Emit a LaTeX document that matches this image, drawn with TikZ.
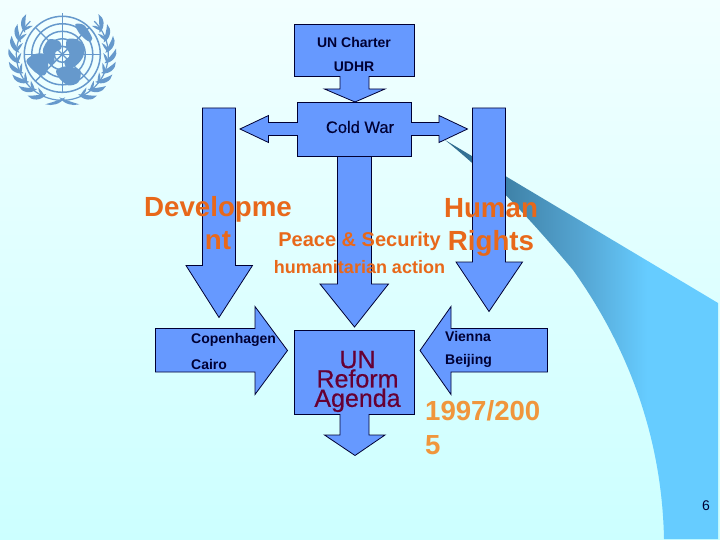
\documentclass[tikz,border=0pt]{standalone}
\usepackage{fontspec}
\setmainfont{Liberation Sans}
\newfontfamily\reformfont[FakeBold=0.5]{Liberation Sans}
\newfontfamily\warfont[FakeBold=0.25]{Liberation Sans}
\definecolor{blockblue}{HTML}{6699FF}
\definecolor{blockline}{HTML}{000033}
\definecolor{titleorange}{HTML}{E8681A}
\definecolor{yearorange}{HTML}{F0963C}
\definecolor{reformred}{HTML}{660033}
\definecolor{emblemblue}{HTML}{6699CC}
\definecolor{swooshdark}{HTML}{2F6A8C}
\definecolor{swooshdeep}{HTML}{3A7A9E}
\definecolor{swooshmid}{HTML}{55A5D2}
\definecolor{swooshlight}{HTML}{66CCFF}
\definecolor{paletop}{HTML}{F2FFFF}
\definecolor{palebottom}{HTML}{CCFFFF}
\pgfdeclarehorizontalshading{swoosh}{100bp}{color(0bp)=(swooshdark);color(25bp)=(swooshdark);color(33bp)=(swooshdeep);color(50bp)=(swooshmid);color(62bp)=(swooshlight);color(100bp)=(swooshlight)}
\tikzset{
	block/.style={draw=blockline,fill=blockblue,line width=0.8pt,line join=miter},
	boxlabel/.style={text=blockline,font=\bfseries\fontsize{14}{16}\selectfont,inner sep=0pt},
	bigtitle/.style={text=titleorange,font=\bfseries\fontsize{27.7}{33}\selectfont,align=center,inner sep=0pt},
	midtitle/.style={text=titleorange,font=\bfseries\fontsize{18}{20}\selectfont,inner sep=0pt},
	leaf/.style={fill=emblemblue}
}
\begin{document}
\begin{tikzpicture}[x=1pt,y=-1pt]
	\useasboundingbox (0,0) rectangle (720,540);
	% background and swoosh
	\shade[top color=paletop,bottom color=palebottom] (0,0) rectangle (720,540);
	\shade[shading=swoosh] (445,140) -- (718,303) -- (718,539) -- (664,539)
		.. controls (662,440) and (630,350) .. (573,270)
		.. controls (535,225) and (495,180) .. (445,140) -- cycle;

	% emblem
	\begin{scope}[shift={(62.3,54.3)}]
		\foreach \r in {8,15.5,23,30.5,38} {
			\draw[emblemblue,line width=1.5pt] (0,0) circle (\r);
		}
		\foreach \a in {0,45,135} {
			\draw[emblemblue,line width=1.4pt] (\a:-38) -- (\a:38);
		}
		\draw[emblemblue,line width=1.6pt] (0,-41) -- (0,39);
		\fill[emblemblue] plot[smooth cycle] coordinates {(5,-15) (14,-15) (21,-9) (21,2) (14,11) (5,14) (2,7) (8,1) (4,-7)};
		\fill[emblemblue] plot[smooth cycle] coordinates {(-19,-6) (-13,-15) (-3,-13) (-1,-6) (-8,-1) (-8,9) (-17,8) (-19,-1)};
		\fill[emblemblue] plot[smooth cycle] coordinates {(-36,7) (-28,0) (-18,0) (-14,12) (-18,21) (-27,18)};
		\fill[emblemblue] plot[smooth cycle] coordinates {(-6,16) (4,12) (18,16) (16,28) (6,31) (-3,24)};
		\fill[emblemblue] plot[smooth cycle] coordinates {(13,-30) (22,-29) (30,-16) (26,-13) (17,-21)};
		\foreach \s in {1,-1} {
			\begin{scope}[xscale=\s]
				\foreach \a in {-30,-16,-2,12,26,40,54,68} {
					\fill[leaf] (\a:43) .. controls (\a-7:46) and (\a-13:51) .. (\a-18:54)
						.. controls (\a-11:56) and (\a-2:51) .. (\a:43) -- cycle;
					\fill[leaf] (\a:46) .. controls (\a-5:43) and (\a-9:41.5) .. (\a-14:41)
						.. controls (\a-10:45) and (\a-5:47) .. (\a:46) -- cycle;
				}
				\draw[emblemblue,line width=1.2pt] (-46:46) arc (-46:88:46);
				\fill[leaf] (-3,43) .. controls (4,46) and (10,48) .. (17,50)
					.. controls (10,52) and (2,50) .. (-3,43) -- cycle;
			\end{scope}
		}
	\end{scope}

	% block arrows
	\draw[block] (202.5,108) -- (235.5,108) -- (235.5,265.5) -- (252.5,265.5) -- (219,317.5)
		-- (186,265.5) -- (202.5,265.5) -- cycle;
	\draw[block] (472.5,108) -- (505.5,108) -- (505.5,262) -- (522.5,262) -- (489,311.5)
		-- (456,262) -- (472.5,262) -- cycle;
	\draw[block] (337.5,156) -- (371.5,156) -- (371.5,284) -- (388.5,284) -- (354.5,327)
		-- (320,284) -- (337.5,284) -- cycle;
	\draw[block] (294.5,24.5) -- (414.5,24.5) -- (414.5,76.5) -- (369,76.5) -- (369,89) -- (385,89)
		-- (355,102) -- (324.5,89) -- (340,89) -- (340,76.5) -- (294.5,76.5) -- cycle;
	\draw[block] (297.5,102.5) -- (411.5,102.5) -- (411.5,122.5) -- (439,122.5) -- (439,115.5) -- (467.5,129)
		-- (439,142.5) -- (439,135.5) -- (411.5,135.5) -- (411.5,156.5) -- (297.5,156.5)
		-- (297.5,135.5) -- (268.5,135.5) -- (268.5,142.5) -- (240,129) -- (268.5,115.5)
		-- (268.5,122.5) -- (297.5,122.5) -- cycle;
	\draw[block] (155.5,328.5) -- (255,328.5) -- (255,306.5) -- (287.5,350.5) -- (255,394.5)
		-- (255,372) -- (155.5,372) -- cycle;
	\draw[block] (547.5,328.5) -- (451,328.5) -- (451,306.5) -- (420,350.5) -- (451,394.5)
		-- (451,372) -- (547.5,372) -- cycle;
	\draw[block] (294.5,330.5) -- (414.5,330.5) -- (414.5,414.5) -- (369,414.5) -- (369,435) -- (385,435)
		-- (355,455.5) -- (324.5,435) -- (340,435) -- (340,414.5) -- (294.5,414.5) -- cycle;

	% labels
	\node[boxlabel] (charter) at (354,42) {UN Charter};
	\node[boxlabel] (udhr) at (354,67) {UDHR};
	\node[boxlabel,font=\warfont\fontsize{16.5}{18}\selectfont] (coldwar) at (360,127) {Cold War};
	\node[bigtitle] (development) at (218,223.5) {Developme\\nt};
	\node[bigtitle] (humanrights) at (491,227.5) {Human\\Rights};
	\node[midtitle,font=\bfseries\fontsize{20}{22}\selectfont] (peace) at (359.5,241) {Peace \& Security};
	\node[midtitle] (humanitarian) at (359.5,267) {humanitarian action};
	\node[boxlabel,anchor=west] (copenhagen) at (191,340) {Copenhagen};
	\node[boxlabel,anchor=west] (cairo) at (191,364) {Cairo};
	\node[boxlabel,anchor=west] (vienna) at (445,336) {Vienna};
	\node[boxlabel,anchor=west] (beijing) at (445,361) {Beijing};
	\node[text=reformred,align=center,inner sep=0pt,font=\reformfont\fontsize{25}{17.5}\selectfont] (reform) at (357.5,381.5) {UN\\Reform\\Agenda};
	\node[text=yearorange,align=left,inner sep=0pt,anchor=north west,font=\bfseries\fontsize{27.6}{34.5}\selectfont] (years) at (425,400) {1997/200\\5};
	\node[text=blockline,inner sep=0pt,font=\fontsize{14}{16}\selectfont] (pagenum) at (706,506) {6};
\end{tikzpicture}
\end{document}
